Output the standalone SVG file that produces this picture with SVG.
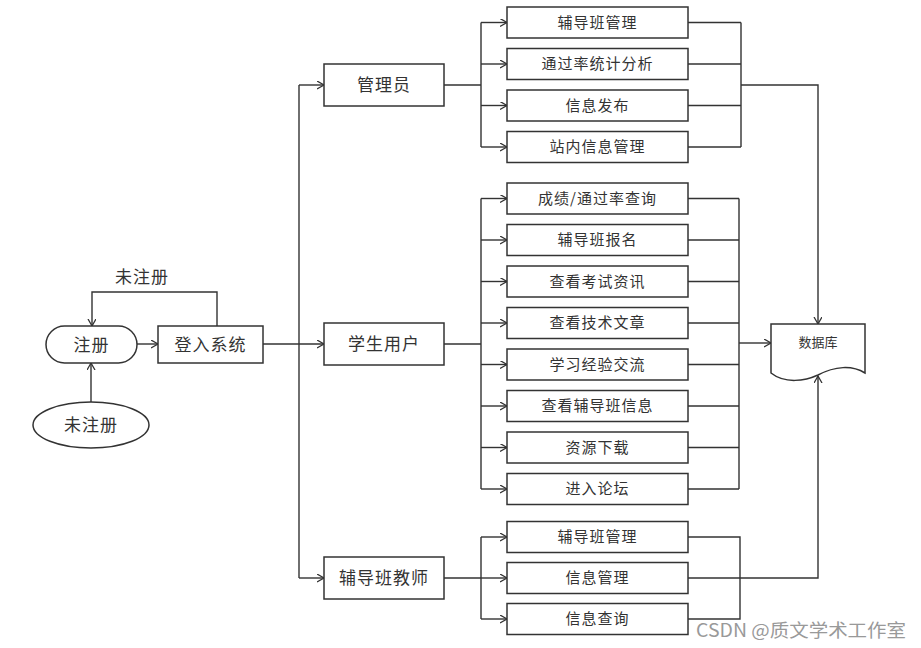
<svg xmlns="http://www.w3.org/2000/svg" width="921" height="648" viewBox="0 0 921 648">
<defs>
<marker id="ar" markerUnits="userSpaceOnUse" markerWidth="10" markerHeight="10" refX="7" refY="4" orient="auto">
<path d="M0,0 L7,4 L0,8" fill="none" stroke="#333" stroke-width="1.3"/>
</marker>
<style>
.box{fill:#fff;stroke:#333;stroke-width:1.5}
.ln{fill:none;stroke:#333;stroke-width:1.4}
.t{font-family:"Noto Sans CJK SC","Noto Sans",sans-serif;fill:#333;text-anchor:middle;dominant-baseline:central;transform:translateY(-1.5px)}
.s{font-size:15px;letter-spacing:1px}
.m{font-size:17px;letter-spacing:1px}
</style>
</defs>
<rect width="921" height="648" fill="#fff"/>
<g id="connectors">
<path class="ln" d="M217,326 V292 H92 V326" marker-end="url(#ar)"/>
<path class="ln" d="M91,402 V363" marker-end="url(#ar)"/>
<path class="ln" d="M137,344 H158" marker-end="url(#ar)"/>
<path class="ln" d="M299,578 V85"/>
<path class="ln" d="M299,85 H324" marker-end="url(#ar)"/>
<path class="ln" d="M263,344 H324" marker-end="url(#ar)"/>
<path class="ln" d="M299,578 H324" marker-end="url(#ar)"/>
<path class="ln" d="M444,85 H481 M481,22.5 V147"/>
<path class="ln" d="M481,22.5 H507" marker-end="url(#ar)"/>
<path class="ln" d="M481,64 H507" marker-end="url(#ar)"/>
<path class="ln" d="M481,105.5 H507" marker-end="url(#ar)"/>
<path class="ln" d="M481,147 H507" marker-end="url(#ar)"/>
<path class="ln" d="M688,22.5 H741 M688,64 H741 M688,105.5 H741 M688,147 H741 M741,22.5 V147"/>
<path class="ln" d="M741,85 H818 V324" marker-end="url(#ar)"/>
<path class="ln" d="M444,344 H481 M481,198.5 V489"/>
<path class="ln" d="M481,198.5 H507" marker-end="url(#ar)"/>
<path class="ln" d="M481,240 H507" marker-end="url(#ar)"/>
<path class="ln" d="M481,281.5 H507" marker-end="url(#ar)"/>
<path class="ln" d="M481,323 H507" marker-end="url(#ar)"/>
<path class="ln" d="M481,364.5 H507" marker-end="url(#ar)"/>
<path class="ln" d="M481,406 H507" marker-end="url(#ar)"/>
<path class="ln" d="M481,447.5 H507" marker-end="url(#ar)"/>
<path class="ln" d="M481,489 H507" marker-end="url(#ar)"/>
<path class="ln" d="M688,198.5 H739 M688,240 H739 M688,281.5 H739 M688,323 H739 M688,364.5 H739 M688,406 H739 M688,447.5 H739 M688,489 H739 M739,198.5 V489"/>
<path class="ln" d="M739,343 H771" marker-end="url(#ar)"/>
<path class="ln" d="M444,578 H481 M481,537 V619"/>
<path class="ln" d="M481,537 H507" marker-end="url(#ar)"/>
<path class="ln" d="M481,578 H507" marker-end="url(#ar)"/>
<path class="ln" d="M481,619 H507" marker-end="url(#ar)"/>
<path class="ln" d="M688,537 H740 V619 H688"/>
<path class="ln" d="M688,578 H818 V376" marker-end="url(#ar)"/>
</g>
<text class="t m" x="142" y="277">未注册</text>
<g id="zhuce"><rect class="box" x="46" y="326" width="91" height="37" rx="18.5"/><text class="t m" x="91.5" y="344.5">注册</text></g>
<g id="weizhuce"><ellipse class="box" cx="91" cy="425" rx="58" ry="23"/><text class="t m" x="91" y="425">未注册</text></g>
<g id="denglu"><rect class="box" x="158" y="326" width="105" height="37"/><text class="t m" x="210.5" y="344.5">登入系统</text></g>
<g id="admin"><rect class="box" x="324" y="64" width="120" height="42"/><text class="t m" x="384" y="85">管理员</text></g>
<g id="student"><rect class="box" x="324" y="323" width="120" height="42"/><text class="t m" x="384" y="344">学生用户</text></g>
<g id="teacher"><rect class="box" x="324" y="557" width="120" height="42"/><text class="t m" x="384" y="578">辅导班教师</text></g>
<g id="a1"><rect class="box" x="507" y="7" width="181" height="31"/><text class="t s" x="597.5" y="22.5">辅导班管理</text></g>
<g id="a2"><rect class="box" x="507" y="48.5" width="181" height="31"/><text class="t s" x="597.5" y="64">通过率统计分析</text></g>
<g id="a3"><rect class="box" x="507" y="90" width="181" height="31"/><text class="t s" x="597.5" y="105.5">信息发布</text></g>
<g id="a4"><rect class="box" x="507" y="131.5" width="181" height="31"/><text class="t s" x="597.5" y="147">站内信息管理</text></g>
<g id="s1"><rect class="box" x="507" y="183" width="181" height="31"/><text class="t s" x="597.5" y="198.5">成绩/通过率查询</text></g>
<g id="s2"><rect class="box" x="507" y="224.5" width="181" height="31"/><text class="t s" x="597.5" y="240">辅导班报名</text></g>
<g id="s3"><rect class="box" x="507" y="266" width="181" height="31"/><text class="t s" x="597.5" y="281.5">查看考试资讯</text></g>
<g id="s4"><rect class="box" x="507" y="307.5" width="181" height="31"/><text class="t s" x="597.5" y="323">查看技术文章</text></g>
<g id="s5"><rect class="box" x="507" y="349" width="181" height="31"/><text class="t s" x="597.5" y="364.5">学习经验交流</text></g>
<g id="s6"><rect class="box" x="507" y="390.5" width="181" height="31"/><text class="t s" x="597.5" y="406">查看辅导班信息</text></g>
<g id="s7"><rect class="box" x="507" y="432" width="181" height="31"/><text class="t s" x="597.5" y="447.5">资源下载</text></g>
<g id="s8"><rect class="box" x="507" y="473.5" width="181" height="31"/><text class="t s" x="597.5" y="489">进入论坛</text></g>
<g id="t1"><rect class="box" x="507" y="521.5" width="181" height="31"/><text class="t s" x="597.5" y="537">辅导班管理</text></g>
<g id="t2"><rect class="box" x="507" y="562.5" width="181" height="31"/><text class="t s" x="597.5" y="578">信息管理</text></g>
<g id="t3"><rect class="box" x="507" y="603.5" width="181" height="31"/><text class="t s" x="597.5" y="619">信息查询</text></g>
<g id="db"><path class="box" d="M771,324 H865 V373 C852,365 835,366 818,375 C805,381 785,384 771,373 Z"/><text class="t" x="818" y="343" font-size="13" fill="#555">数据库</text></g>
<text x="696" y="637" font-family="'Noto Sans CJK SC','Noto Sans',sans-serif" font-size="18" fill="#999" textLength="210" lengthAdjust="spacingAndGlyphs">CSDN @质文学术工作室</text>
</svg>
